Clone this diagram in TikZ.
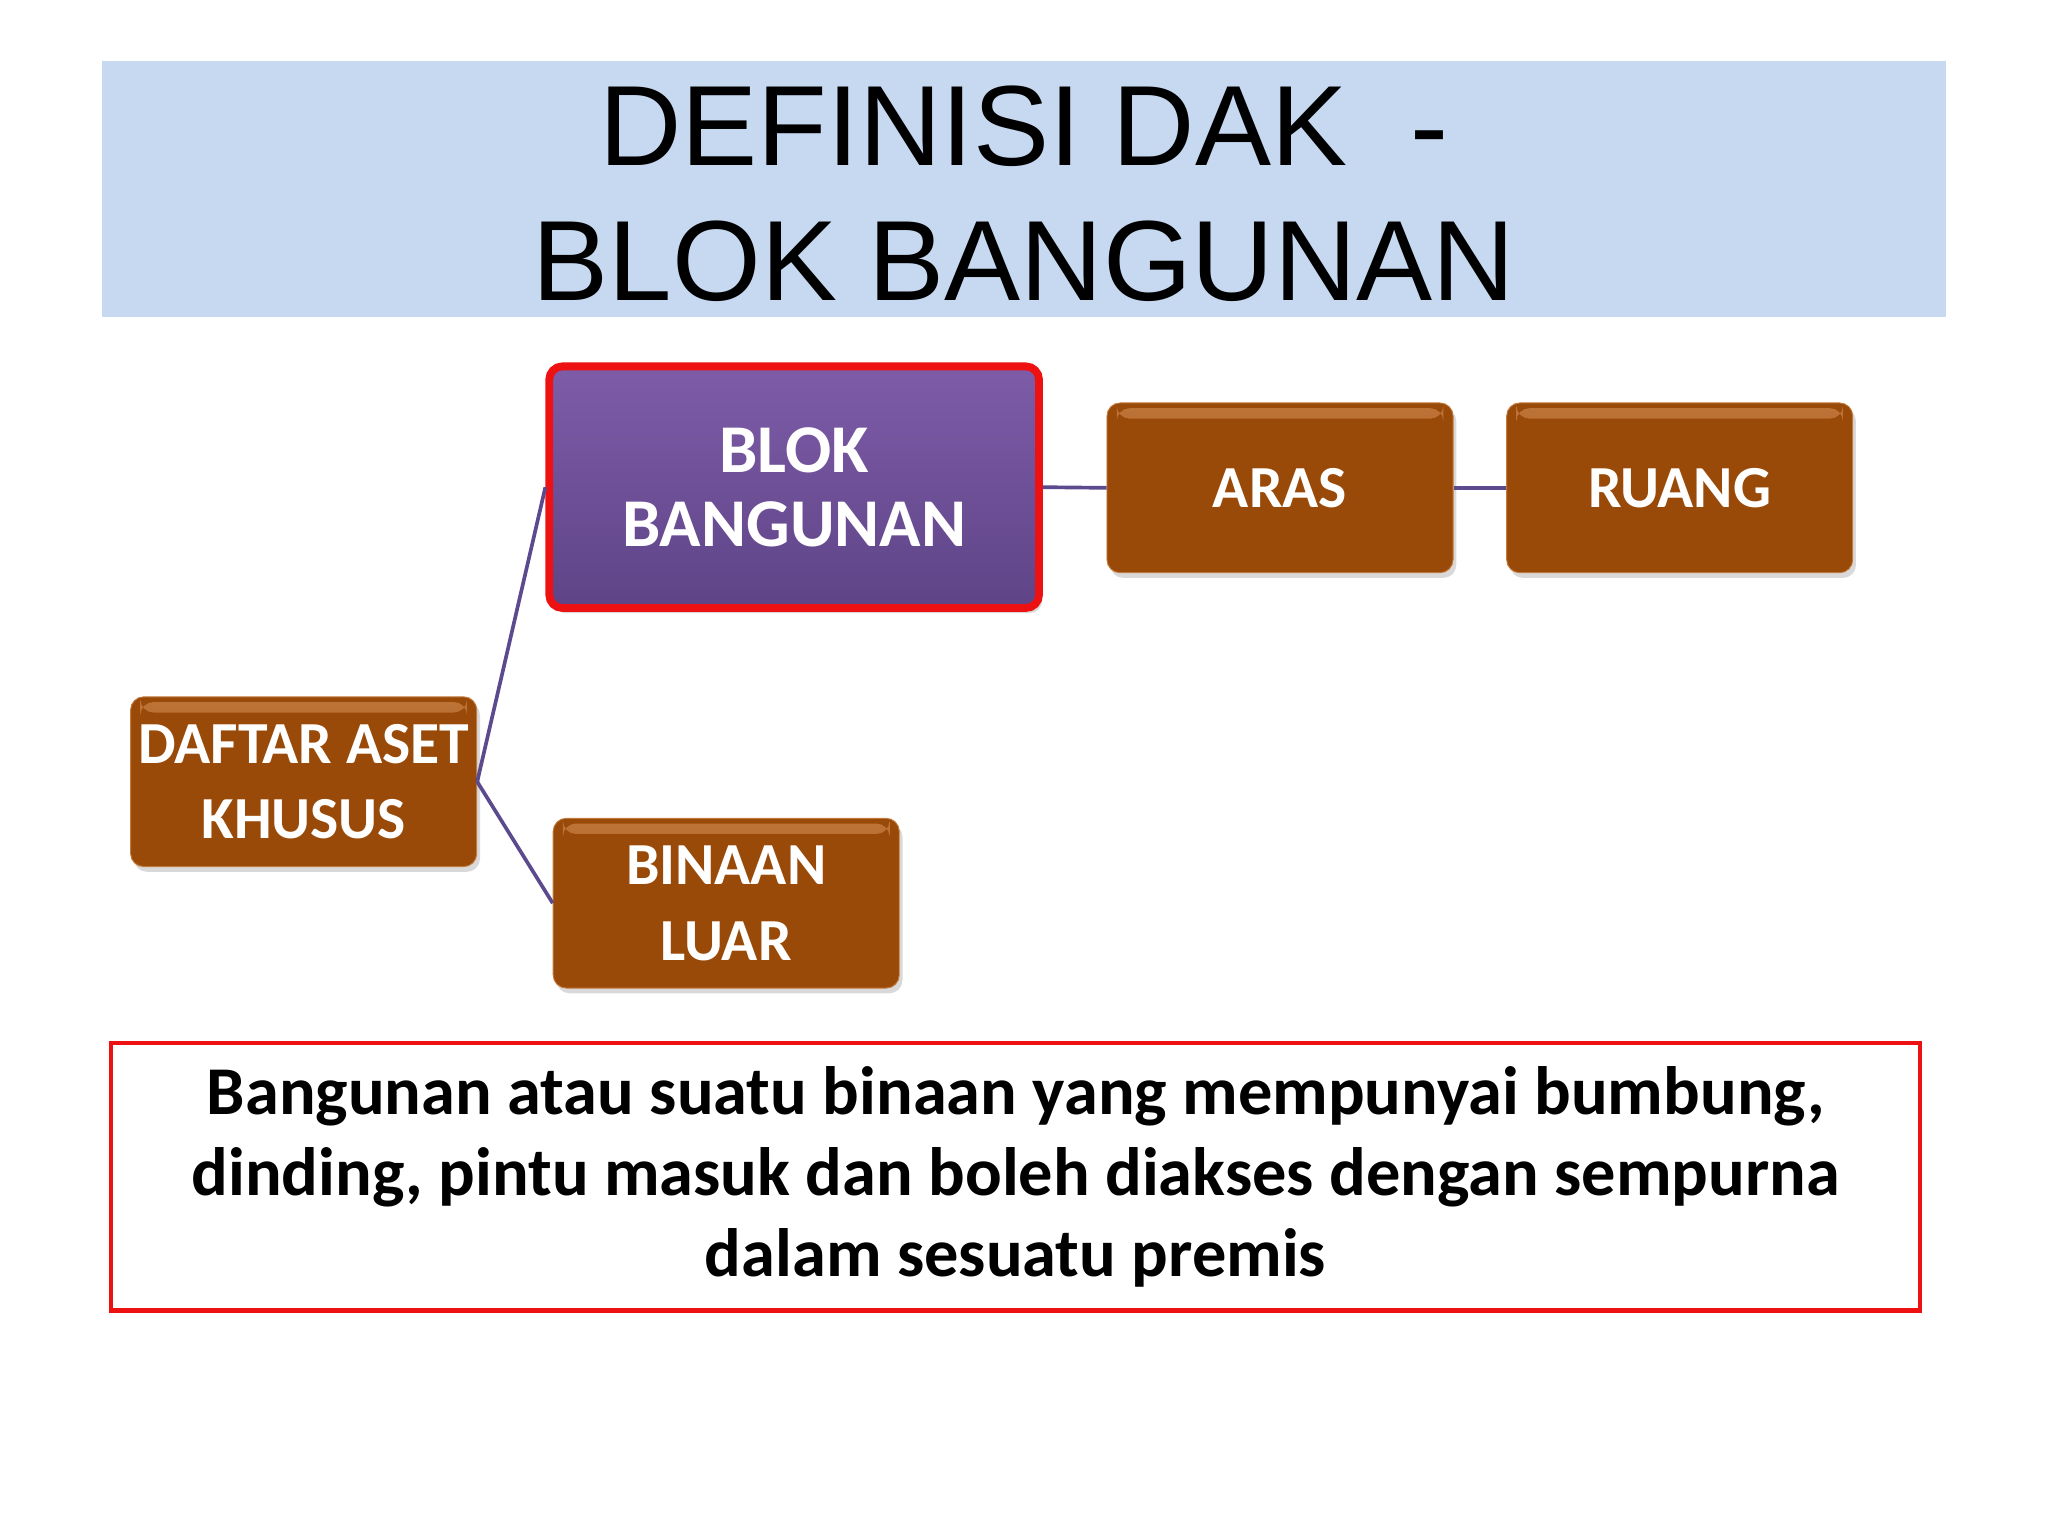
\documentclass[tikz,border=0pt]{standalone}
\usepackage{fontspec}
\setmainfont{Carlito}
\newfontfamily\titlefont{Liberation Sans}
\usetikzlibrary{shadows}
\definecolor{bandblue}{HTML}{C6D9F1}
\definecolor{boxbrown}{HTML}{9A4A08}
\definecolor{boxhigh}{HTML}{BE7438}
\definecolor{boxedge}{HTML}{C27A3C}
\definecolor{blokhigh}{HTML}{7E5CA8}
\definecolor{bloklow}{HTML}{5E4487}
\definecolor{linkpurple}{HTML}{5B4A8E}
\definecolor{alertred}{HTML}{EE1111}
\begin{document}
\begin{tikzpicture}[x=0.02cm,y=-0.02cm]
 \tikzset{box/.style={draw=boxedge, fill=boxbrown, rounded corners=0.2cm, minimum width=5.3cm, minimum height=2.6cm, text=white, align=center, font=\fontsize{26}{33}\selectfont\bfseries, drop shadow={opacity=0.3, shadow xshift=0.05cm, shadow yshift=-0.08cm},
   path picture={\shade[top color=boxhigh, bottom color=boxbrown] ([xshift=0.15cm,yshift=-0.08cm]path picture bounding box.north west) rectangle ([xshift=-0.15cm,yshift=-0.24cm]path picture bounding box.north east);}}}
 \tikzset{link/.style={draw=linkpurple, line width=1.6pt}}
 \tikzset{titletext/.style={font=\titlefont\fontsize{49.7}{56}\selectfont, anchor=base}}
  \useasboundingbox (0,0) rectangle (1568,1176);
  \fill[bandblue] (78,47) rectangle (1490,243);
  \node[titletext] (TITLE1) at (784,127) {DEFINISI DAK~~-};
  \node[titletext] (TITLE2) at (784,230) {BLOK BANGUNAN};
  \node[box, draw=alertred, line width=3.4pt, top color=blokhigh, bottom color=bloklow, path picture={}, minimum width=7.5cm, minimum height=3.7cm, font=\fontsize{29.8}{32.5}\selectfont\bfseries] (BLOK) at (608,373) {BLOK\\BANGUNAN};
  \node[box] (ARAS) at (980,373.5) {ARAS};
  \node[box] (RUANG) at (1286,373.5) {RUANG};
  \node[box] (DAFTAR) at (232.5,598.5) {DAFTAR ASET\\KHUSUS};
  \node[box] (BINAAN) at (556,691.5) {BINAAN\\LUAR};
  \draw[link] (DAFTAR.east) -- (BLOK.west);
  \draw[link] (DAFTAR.east) -- (BINAAN.west);
  \draw[link] (BLOK.east) -- (ARAS.west);
  \draw[link] (ARAS.east) -- (RUANG.west);
  \node[draw=alertred, line width=2pt, minimum width=27.7cm, minimum height=4.1cm, align=center, font=\fontsize{29.8}{35.2}\selectfont\bfseries] (DEFN) at (777.5,901) {Bangunan atau suatu binaan yang mempunyai bumbung,\\dinding, pintu masuk dan boleh diakses dengan sempurna\\dalam sesuatu premis};
\end{tikzpicture}
\end{document}
